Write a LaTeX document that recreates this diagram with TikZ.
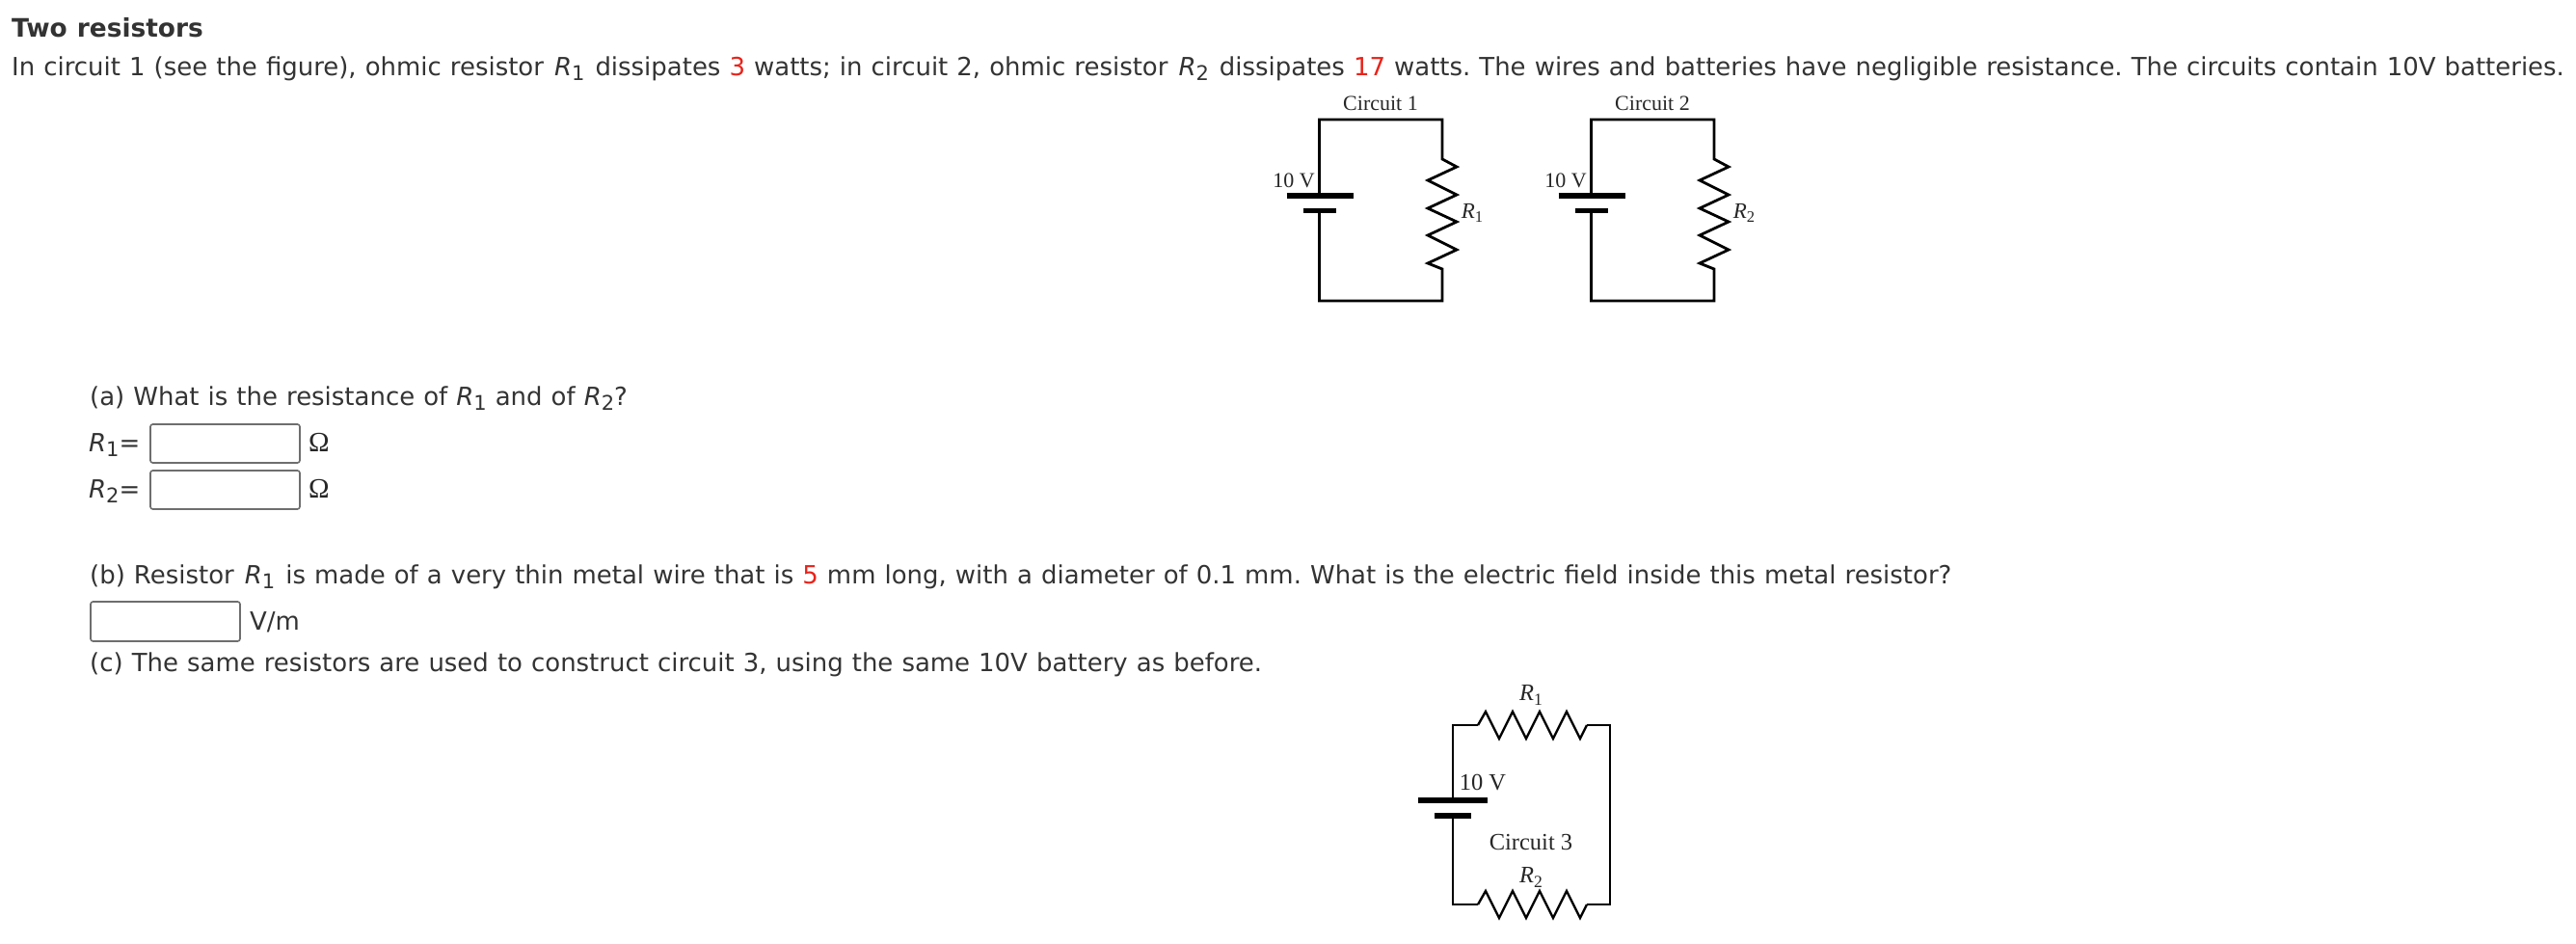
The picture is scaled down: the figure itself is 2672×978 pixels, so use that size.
\documentclass[tikz,border=0pt]{standalone}
\usepackage{fontspec}
\setmainfont[WordSpace=1.1]{DejaVu Sans}
\newfontfamily\figfont{Liberation Serif}
\usetikzlibrary{calc}
\definecolor{qtext}{HTML}{333333}
\definecolor{qred}{HTML}{E8231A}
\definecolor{qbox}{HTML}{6E6E6E}
\newcommand{\Rsub}[1]{\textit{R}\raisebox{-0.22em}{\fontsize{21}{24}\selectfont #1}}
\newcommand{\Rtxt}[1]{\hspace{2pt}\Rsub{#1}\hspace{2pt}}
\newcommand{\Rfig}[1]{\textit{R}\raisebox{-0.2em}{\fontsize{0.72em}{1em}\selectfont #1}}
\frenchspacing
\tikzset{
  qline/.style={anchor=base west, inner sep=0pt, text=qtext, font=\fontsize{25.95}{32}\selectfont},
  qans/.style={draw=qbox, line width=1.6pt, rounded corners=2.5pt},
  figlabel/.style={inner sep=0pt, text=black!85, font=\figfont\fontsize{22}{26}\selectfont},
  figlabelbig/.style={figlabel, font=\figfont\fontsize{24.5}{28}\selectfont},
  ohmlabel/.style={figlabel, font=\figfont\fontsize{29}{32}\selectfont},
  wire/.style={line width=2.8pt, line join=miter},
  plate/.style={line width=5.5pt}
}

\begin{document}
\begin{tikzpicture}[x=1pt, y=-1pt]

\useasboundingbox (0,0) rectangle (2672,978);

\node [qline, font=\bfseries\fontsize{26.4}{32}\selectfont] (title) at (12,38) {Two resistors};
\node [qline] (intro) at (12,78) {In circuit 1 (see the figure), ohmic resistor \Rtxt{1} dissipates \textcolor{qred}{3} watts; in circuit 2, ohmic resistor \Rtxt{2} dissipates \textcolor{qred}{17} watts. The wires and batteries have negligible resistance. The circuits contain 10V batteries.};

% circuits 1 and 2
\foreach \c/\dx in {1/0,2/282} {
  \coordinate (nw\c) at (1368.5+\dx,124);
  \coordinate (ne\c) at (1496+\dx,124);
  \coordinate (sw\c) at (1368.5+\dx,312);
  \coordinate (se\c) at (1496+\dx,312);
  \coordinate (plus\c) at (1368.5+\dx,203);
  \coordinate (minus\c) at (1368.5+\dx,218.5);
  \coordinate (top\c) at (1496+\dx,165);
  \coordinate (bot\c) at (1496+\dx,279);
  \draw [wire] (plus\c) -- (nw\c) -- (ne\c) -- (top\c)
    -- ++(15,8) -- ++(-30,14) -- ++(30,15) -- ++(-30,14) -- ++(30,14) -- ++(-30,14) -- ++(30,15) -- ++(-30,14)
    -- (bot\c) -- (se\c) -- (sw\c) -- (minus\c);
  \draw [plate] ($(plus\c)+(-34,0)$) -- ($(plus\c)+(35,0)$);
  \draw [plate] ($(minus\c)+(-17,0)$) -- ($(minus\c)+(17,0)$);
  \node [figlabel] (name\c) at (1432+\dx,107) {Circuit \c};
  \node [figlabel] (volt\c) at (1342+\dx,187) {10 V};
  \node [figlabel, font=\figfont\fontsize{23}{26}\selectfont] (res\c) at (1527+\dx,221) {\Rfig{\c}};
}

% part a
\node [qline] (parta) at (93,420) {(a) What is the resistance of \Rsub{1} and of \Rsub{2}?};
\node [qline] (eqone) at (92,468) {\Rsub{1}=};
\node [qline] (eqtwo) at (92,516) {\Rsub{2}=};
\draw [qans] (156,440) rectangle (311,480);
\draw [qans] (156,488) rectangle (311,528);
\node [ohmlabel] (ohmone) at (331,459) {Ω};
\node [ohmlabel] (ohmtwo) at (331,507) {Ω};

% part b
\node [qline] (partb) at (93,605) {(b) Resistor \Rtxt{1} is made of a very thin metal wire that is \textcolor{qred}{5} mm long, with a diameter of 0.1 mm. What is the electric field inside this metal resistor?};
\draw [qans] (94,624) rectangle (249,665);
\node [qline] (unit) at (259,653) {V/m};

% part c
\node [qline] (partc) at (93,696) {(c) The same resistors are used to construct circuit 3, using the same 10V battery as before.};

% circuit 3
\coordinate (nw3) at (1507,752);
\coordinate (ne3) at (1670,752);
\coordinate (sw3) at (1507,938);
\coordinate (se3) at (1670,938);
\coordinate (plus3) at (1507,830);
\coordinate (minus3) at (1507,846);
\foreach \y in {752,938} {
  \draw [line width=2.4pt] (1533,\y) -- ++(8,-14) -- ++(14,28) -- ++(14,-28) -- ++(14,28) -- ++(14,-28) -- ++(14,28) -- ++(14,-28) -- ++(14,28) -- ++(7,-14);
}
\draw [line width=2.4pt] (plus3) -- (nw3) -- (1533,752);
\draw [line width=2.4pt] (minus3) -- (sw3) -- (1533,938);
\draw [line width=2.8pt] (1646,752) -- (ne3) -- (se3) -- (1646,938);
\draw [plate] ($(plus3)+(-36,0)$) -- ($(plus3)+(36,0)$);
\draw [plate] ($(minus3)+(-19,0)$) -- ($(minus3)+(19,0)$);
\node [figlabelbig] (resthreea) at (1588,721) {\Rfig{1}};
\node [figlabelbig] (voltthree) at (1538,812) {10 V};
\node [figlabelbig] (namethree) at (1588,873) {Circuit 3};
\node [figlabelbig] (resthreeb) at (1588,910) {\Rfig{2}};

\end{tikzpicture}
\end{document}
